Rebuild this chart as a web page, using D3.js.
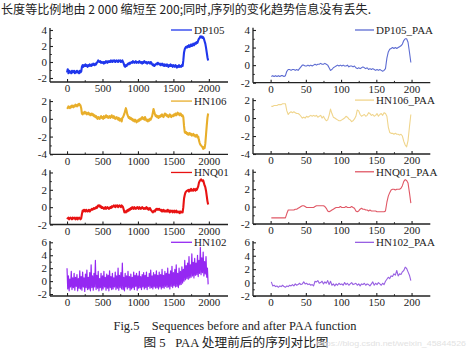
<!DOCTYPE html>
<html><head><meta charset="utf-8">
<script src="https://cdn.jsdelivr.net/npm/d3@7"></script>
<style>body{margin:0;background:#fff}svg{display:block}</style>
</head><body><svg id="c" width="474" height="360"></svg>
<script>
// ---------- data ----------
const rawTicks = [0, 500, 1000, 1500, 2000];
const paaTicks = [0, 50, 100, 150, 200];
const yTicksA = [-2, 0, 2, 4];
const yTicksB = [-4, -2, 0, 2];
const yTicksC = [-2, 0, 2, 4, 6];
const seriesNames = ["DP105", "HN106", "HNQ01", "HN102"];

const dp105Raw = [
-1.3,-0.9,-1.4,-1.1,-1.3,-1.2,-1.4,-1.1,-1.3,-1.2,
-1.1,-1.4,-1.2,-1.3,-1.1,-1.3,-1.2,-1.4,-1.1,-1.3,
-1.2,-0.6,-0.4,-0.6,-0.4,-0.5,-0.3,-0.5,-0.4,-0.6,
-0.4,-0.5,-0.3,-0.4,-0.5,-0.3,-0.4,-0.2,-0.3,-0.4,
-0.2,-0.3,-0.1,0.0,0.2,0.1,0.0,0.1,-0.1,0.0,
-0.1,0.0,-0.2,0.0,-0.1,0.1,0.0,-0.1,0.1,0.0,
0.1,0.0,0.2,0.1,0.0,0.2,0.1,0.2,0.0,0.1,
0.2,0.1,0.0,0.2,0.1,0.2,0.0,0.1,0.2,0.0,
-0.2,-0.5,-0.6,-0.4,-0.5,-0.3,-0.2,-0.3,-0.1,-0.2,
-0.1,0.0,-0.1,0.1,0.0,-0.1,0.0,0.1,-0.1,0.0,
0.0,-0.1,0.1,0.0,-0.1,0.0,-0.2,0.0,-0.1,0.1,
0.0,-0.1,0.0,-0.2,-0.1,0.0,-0.1,-0.2,0.0,-0.1,
-0.3,-0.4,-0.3,-0.5,-0.4,-0.3,-0.2,-0.3,-0.1,-0.2,
-0.3,-0.2,-0.4,-0.3,-0.2,-0.4,-0.3,-0.5,-0.3,-0.4,
-0.5,-0.3,-0.4,-0.6,-0.4,-0.5,-0.3,-0.5,-0.4,-0.6,
-0.4,-0.5,-0.6,-0.4,-0.5,-0.7,-0.5,-0.6,-0.4,-0.6,
-0.5,-0.6,-0.4,-0.5,0.2,1.2,1.6,1.8,1.9,1.8,
2.0,1.9,2.1,1.9,2.0,2.2,2.0,2.1,2.3,2.1,
2.2,2.4,2.3,2.5,2.4,2.7,2.9,3.0,3.2,3.1,
3.2,3.0,3.1,2.9,2.6,2.3,1.8,1.2,0.6,0.2];

const dp105Paa = [
-1.3,-1.2,-1.3,-1.2,-1.3,-1.2,-1.3,-1.2,-1.2,-1.3,
-1.2,-0.7,-0.5,-0.5,-0.6,-0.5,-0.5,-0.6,-0.5,-0.6,
-0.4,-0.2,0.0,0.0,-0.1,-0.1,0.0,-0.1,0.0,-0.1,
0.0,0.1,0.0,0.1,0.1,0.2,0.1,0.1,0.2,0.1,
0.0,-0.3,-0.6,-0.5,-0.3,-0.2,-0.1,0.0,-0.1,0.0,
-0.1,0.0,-0.1,-0.1,0.0,-0.2,-0.1,-0.1,-0.2,-0.1,
-0.3,-0.4,-0.3,-0.4,-0.3,-0.2,-0.3,-0.4,-0.3,-0.5,
-0.4,-0.5,-0.4,-0.5,-0.6,-0.5,-0.6,-0.5,-0.6,-0.7,
-0.6,-0.4,0.8,1.5,1.8,1.9,2.0,1.9,2.0,1.9,
2.0,2.1,2.2,2.4,2.8,3.0,3.0,2.6,1.5,0.3];

const hn106Raw = [
1.3,1.2,1.4,1.3,1.2,1.4,1.3,1.5,1.4,1.3,
1.5,1.4,1.6,1.5,1.4,1.6,1.5,1.7,1.6,1.5,
1.2,0.6,0.5,0.7,0.6,0.8,0.6,0.7,0.5,0.6,
0.7,0.5,0.6,0.4,0.5,0.6,0.4,0.5,0.3,0.4,
0.2,0.3,0.1,0.0,0.2,0.1,0.0,0.2,0.3,0.1,
0.2,0.0,0.3,0.1,0.2,0.4,0.2,0.3,0.1,0.2,
0.3,0.1,0.2,0.4,0.2,0.1,0.3,0.2,0.0,0.1,
0.2,0.0,-0.1,0.1,-0.2,-0.1,0.0,-0.3,0.1,0.2,
0.4,0.6,0.9,1.2,0.9,0.5,0.3,0.1,0.2,0.0,
0.1,-0.1,0.0,-0.2,-0.1,-0.3,-0.1,-0.2,-0.4,-0.2,
-0.3,-0.1,-0.2,0.0,-0.1,0.1,0.2,0.0,0.1,-0.1,
0.2,0.0,-0.2,-0.1,-0.3,-0.1,-0.2,0.0,-0.1,0.1,
0.3,0.7,1.1,0.8,0.5,0.3,0.4,0.2,0.3,0.1,
0.3,0.2,0.4,0.3,0.5,0.3,0.2,0.4,0.6,0.4,
0.5,0.3,0.4,0.2,0.3,0.5,0.4,0.2,0.3,0.4,
0.3,0.5,0.4,0.6,0.4,0.5,0.7,0.5,0.6,0.4,
0.6,0.5,0.3,0.4,0.2,-0.8,-1.5,-1.6,-1.5,-1.7,
-1.6,-1.8,-1.7,-1.6,-1.8,-1.7,-1.9,-1.8,-1.7,-1.9,
-1.8,-2.0,-1.9,-1.8,-2.1,-2.0,-2.4,-2.7,-2.9,-3.0,
-3.1,-3.2,-3.4,-3.2,-3.3,-2.8,-1.8,-0.8,0.1,0.6];

const hn106Paa = [
1.3,1.3,1.4,1.4,1.4,1.5,1.5,1.5,1.6,1.6,
1.6,0.8,0.4,0.6,0.7,0.6,0.7,0.6,0.5,0.5,
0.4,0.2,0.0,0.1,0.0,0.2,0.1,0.2,0.3,0.2,
0.3,0.2,0.3,0.1,0.2,0.3,0.0,0.2,-0.1,-0.3,
-0.2,0.3,1.0,0.5,0.1,0.0,-0.1,-0.2,-0.3,-0.3,
-0.2,-0.1,0.0,0.2,0.1,-0.1,-0.2,-0.4,-0.3,-0.1,
0.2,0.9,0.8,0.4,0.2,0.3,0.4,0.2,0.3,0.6,
0.5,0.3,0.4,0.2,0.3,0.5,0.2,0.4,0.5,0.3,
0.6,0.5,0.2,-1.0,-1.6,-1.7,-1.7,-1.8,-1.7,-1.8,
-1.8,-1.9,-1.8,-2.0,-2.6,-3.0,-3.2,-2.5,-1.0,0.4];

const hnq01Raw = [
-1.2,-1.3,-1.2,-1.4,-1.3,-1.2,-1.3,-1.4,-1.2,-1.3,
-1.3,-1.2,-1.4,-1.3,-1.2,-1.4,-1.3,-1.2,-1.3,-1.4,
-1.3,-0.8,-0.4,-0.5,-0.3,-0.4,-0.5,-0.3,-0.4,-0.5,
-0.4,-0.3,-0.5,-0.4,-0.3,-0.2,-0.3,-0.2,-0.1,-0.2,
-0.1,0.0,-0.1,0.1,0.2,0.1,0.2,0.0,0.1,-0.1,
0.0,-0.1,-0.2,-0.1,0.0,-0.2,-0.1,0.0,-0.1,-0.2,
-0.1,0.0,-0.1,0.1,0.0,0.1,0.2,0.1,0.0,0.2,
0.1,0.2,0.0,0.1,0.2,0.1,0.0,0.2,0.1,0.0,
-0.3,-0.6,-0.5,-0.6,-0.4,-0.5,-0.3,-0.4,-0.2,-0.3,
-0.1,-0.2,0.0,-0.1,-0.2,0.0,-0.1,-0.2,-0.1,0.0,
-0.1,-0.2,0.0,-0.1,-0.2,-0.1,0.0,-0.1,-0.2,-0.1,
-0.2,-0.1,0.0,-0.2,-0.1,-0.3,-0.2,-0.1,-0.3,-0.4,
-0.5,-0.6,-0.5,-0.4,-0.5,-0.3,-0.2,-0.3,-0.2,-0.3,
-0.2,-0.3,-0.4,-0.3,-0.5,-0.4,-0.3,-0.5,-0.4,-0.5,
-0.4,-0.5,-0.3,-0.5,-0.4,-0.6,-0.4,-0.5,-0.4,-0.6,
-0.5,-0.4,-0.6,-0.5,-0.4,-0.6,-0.5,-0.6,-0.5,-0.7,
-0.5,-0.6,-0.5,-0.6,0.0,1.0,1.4,1.7,1.8,1.9,
1.9,2.0,1.8,2.0,1.9,2.1,1.9,2.0,1.9,2.1,
2.0,1.9,2.1,2.0,2.2,2.4,2.8,3.0,3.1,3.2,
3.1,3.0,3.1,2.8,2.5,2.3,1.9,1.3,0.7,0.3];

const hnq01Paa = [
-1.3,-1.3,-1.3,-1.3,-1.3,-1.3,-1.3,-1.3,-1.3,-1.3,
-1.3,-0.8,-0.4,-0.4,-0.4,-0.4,-0.4,-0.3,-0.3,-0.2,
-0.1,0.0,0.1,0.1,0.0,-0.1,-0.1,-0.1,-0.1,-0.1,
-0.1,0.0,0.1,0.1,0.1,0.1,0.1,0.1,0.0,-0.2,
-0.5,-0.6,-0.5,-0.4,-0.3,-0.2,-0.1,-0.1,-0.1,0.0,
-0.1,-0.1,-0.1,0.0,-0.1,-0.1,-0.1,0.0,-0.1,-0.2,
-0.5,-0.6,-0.5,-0.3,-0.2,-0.3,-0.3,-0.4,-0.4,-0.5,
-0.4,-0.5,-0.5,-0.5,-0.5,-0.6,-0.6,-0.6,-0.6,-0.6,
-0.6,-0.5,0.5,1.2,1.6,1.9,2.0,2.0,1.9,2.0,
2.0,2.0,2.1,2.4,2.9,3.1,3.0,2.7,1.6,0.4];

const hn102Raw = [
2.0,-1.2,0.8,-1.5,0.3,-0.9,1.5,-1.3,0.5,-1.0,
1.2,-1.4,0.6,-0.8,1.0,-1.5,0.4,-1.1,1.6,-1.2,
0.7,-1.4,1.4,-0.9,0.5,-1.6,1.1,-1.0,1.7,-1.3,
0.6,-1.2,1.3,-1.5,2.5,-1.0,0.8,-1.4,1.2,-0.9,
3.2,-1.3,0.9,-1.1,1.5,-1.5,0.4,-1.0,1.2,-1.4,
0.8,-1.2,1.5,-0.9,0.6,-1.4,1.1,-1.1,0.9,-1.5,
1.6,-1.0,0.7,-1.3,1.2,-1.2,0.5,-0.9,1.4,-1.3,
0.8,-1.1,2.0,-1.4,0.9,-1.0,1.3,-1.2,2.8,-1.3,
0.6,-1.5,1.2,-0.9,0.8,-1.2,1.5,-1.0,0.7,-1.4,
1.1,-1.2,0.6,-1.0,1.4,-1.3,0.9,-0.8,1.2,-1.4,
0.8,-1.1,1.5,-1.0,0.7,-1.3,1.0,-0.9,1.3,-1.2,
0.9,-1.0,1.4,-1.3,0.6,-0.8,1.2,-1.1,1.7,-1.0,
0.8,-1.2,1.3,-0.9,1.0,-1.1,1.6,-1.0,0.9,-1.2,
1.4,-0.9,1.0,-1.2,1.8,-1.0,0.9,-1.1,1.5,-0.8,
1.2,-1.0,2.0,-0.9,1.1,-1.2,1.6,-0.8,2.3,-1.0,
1.3,-0.7,1.8,-0.9,2.5,-0.8,1.2,-1.0,2.0,-0.6,
1.5,-0.5,2.2,-0.3,1.8,0.0,3.2,0.2,2.4,0.4,
2.8,0.3,3.8,0.5,2.5,0.6,4.2,0.8,2.9,0.5,
3.5,0.9,2.8,1.0,4.0,0.7,3.2,1.2,5.2,1.0,
3.6,1.3,4.5,0.8,3.0,1.1,3.8,0.6,2.0,-0.5];

const hn102Paa = [
0.1,-0.5,-0.4,-0.6,-0.5,-0.7,-0.5,-0.6,-0.4,-0.6,
-0.7,-0.5,-0.6,-0.4,-0.5,-0.3,-0.5,-0.2,-0.4,-0.3,
-0.1,-0.3,-0.2,0.1,-0.2,-0.1,-0.3,-0.2,-0.4,-0.3,
-0.5,0.2,0.1,0.3,-0.1,0.0,0.2,-0.2,0.1,-0.1,
0.3,-0.3,0.2,-0.4,-0.2,-0.5,-0.2,-0.4,-0.1,-0.3,
-0.2,-0.4,0.0,-0.3,-0.1,-0.4,-0.2,0.0,-0.3,-0.2,
-0.1,-0.4,-0.2,-0.5,-0.2,-0.3,-0.1,-0.4,-0.2,-0.3,
-0.5,-0.2,0.1,-0.4,-0.1,-0.3,0.0,-0.2,-0.4,-0.1,
-0.3,0.2,0.5,0.8,0.6,1.0,0.9,1.3,1.1,1.8,
1.0,1.3,1.2,1.6,1.8,2.3,2.1,1.6,1.1,0.3];

const rawIndex = d3.range(0, 2000, 10);   // original sequence positions (length 2000, sampled)
const paaIndex = d3.range(1, 200, 2);     // PAA segment positions (length 200)

// ---------- layout ----------
const svg = d3.select("#c");
const FONT = "'Liberation Serif','Times New Roman',serif";
const fmt = d => String(d);
const cols = [
  {dom: [-240, 2270], rng: [50, 228], ticks: rawTicks, minor: 250, leg: [171, 192, 194], idx: rawIndex},
  {dom: [-25, 226.6], rng: [253, 430.3], ticks: paaTicks, minor: 25, leg: [355, 374, 376], idx: paaIndex}
];
const rows = [
  {ticks: yTicksA, L: {dom: [-2.5, 4.25], rng: [82, 28]},   R: {dom: [-2, 4.25], rng: [82.7, 27.8]}},
  {ticks: yTicksB, L: {dom: [-4, 2.2], rng: [154.3, 99.3]}, R: {dom: [-4, 2.2], rng: [154, 98.3]}},
  {ticks: yTicksA, L: {dom: [-2, 4.25], rng: [224.5, 170.3]}, R: {dom: [-2, 4.25], rng: [224, 169.6]}},
  {ticks: yTicksC, L: {dom: [-2.3, 6.2], rng: [296, 241]},  R: {dom: [-2, 6.2], rng: [296, 241]}}
];
const seriesData = [[dp105Raw, dp105Paa], [hn106Raw, hn106Paa], [hnq01Raw, hnq01Paa], [hn102Raw, hn102Paa]];
const colors = [["#1f36ec", "#5d6cd2"], ["#e8ae2a", "#f0d58c"], ["#e81212", "#e05866"], ["#9528f2", "#9860e2"]];
const widths = [[2.1, 1.1], [2.1, 1.1], [2.1, 1.1], [1.2, 1.1]];

rows.forEach((row, ri) => {
  cols.forEach((col, ci) => {
    const yc = ci === 0 ? row.L : row.R;
    const x = d3.scaleLinear().domain(col.dom).range(col.rng);
    const y = d3.scaleLinear().domain(yc.dom).range(yc.rng);
    const g = svg.append("g");
    const y0 = yc.rng[0];
    // minor ticks
    const xMinor = d3.range(col.ticks[0], col.ticks[col.ticks.length - 1] + 1, col.minor).filter(v => !col.ticks.includes(v));
    g.append("g").attr("transform", `translate(0,${y0})`)
      .call(d3.axisBottom(x).tickValues(xMinor).tickSizeInner(-1.8).tickSizeOuter(0).tickFormat(""))
      .call(s => s.select(".domain").remove())
      .selectAll("line").attr("stroke", "#222").attr("stroke-width", 1);
    const yMinor = d3.range(Math.ceil(yc.dom[0]), Math.floor(yc.dom[1]) + 1).filter(v => !row.ticks.includes(v));
    g.append("g").attr("transform", `translate(${col.rng[0]},0)`)
      .call(d3.axisLeft(y).tickValues(yMinor).tickSizeInner(-1.8).tickSizeOuter(0).tickFormat(""))
      .call(s => s.select(".domain").remove())
      .selectAll("line").attr("stroke", "#222").attr("stroke-width", 1);
    // series line
    const vals = seriesData[ri][ci];
    const line = d3.line().x((d, i) => x(col.idx[i])).y(d => y(d));
    g.append("path").datum(vals).attr("d", line).attr("fill", "none")
      .attr("stroke", colors[ri][ci]).attr("stroke-width", widths[ri][ci]).attr("stroke-linejoin", "round");
    // axes
    const xa = g.append("g").attr("transform", `translate(0,${y0})`)
      .call(d3.axisBottom(x).tickValues(col.ticks).tickFormat(fmt).tickSizeInner(-3).tickSizeOuter(0).tickPadding(2.5));
    const ya = g.append("g").attr("transform", `translate(${col.rng[0]},0)`)
      .call(d3.axisLeft(y).tickValues(row.ticks).tickFormat(fmt).tickSizeInner(-3).tickSizeOuter(0).tickPadding(3));
    [xa, ya].forEach(a => {
      a.select(".domain").attr("stroke", "#222").attr("stroke-width", 1.3);
      a.selectAll("line").attr("stroke", "#222").attr("stroke-width", 1.1);
      a.selectAll("text").attr("font-family", FONT).attr("font-size", 11).attr("fill", "#222");
    });
    xa.select(".domain").attr("d", `M${col.rng[0]},0H${col.rng[1]}`);
    ya.select(".domain").attr("d", `M0,${yc.rng[0]}V${yc.rng[1]}`);
    // legend
    const ly = y(row.ticks[row.ticks.length - 1]);
    g.append("line").attr("x1", col.leg[0]).attr("x2", col.leg[1]).attr("y1", ly).attr("y2", ly)
      .attr("stroke", colors[ri][ci]).attr("stroke-width", 1.3);
    g.append("text").attr("x", col.leg[2]).attr("y", ly + 3.8)
      .attr("font-family", FONT).attr("font-size", 11).attr("fill", "#222")
      .text(seriesNames[ri] + (ci === 1 ? "_PAA" : ""));
  });
});

// ---------- texts ----------
svg.append("text").attr("x", 1).attr("y", 13.5)
  .attr("font-family", "'Noto Sans CJK SC',sans-serif").attr("font-size", 12).attr("fill", "#222")
  .attr("textLength", 370).attr("lengthAdjust", "spacingAndGlyphs")
  .text("长度等比例地由 2 000 缩短至 200;同时,序列的变化趋势信息没有丢失.");
svg.append("text").attr("x", 113.5).attr("y", 329.5)
  .attr("font-family", FONT).attr("font-size", 12.5).attr("fill", "#222")
  .attr("textLength", 243).attr("lengthAdjust", "spacingAndGlyphs").attr("xml:space", "preserve")
  .text("Fig.5    Sequences before and after PAA function");
svg.append("text").attr("x", 143.5).attr("y", 347)
  .attr("font-family", "'Liberation Serif','Noto Sans CJK SC',serif").attr("font-size", 12.5).attr("fill", "#222")
  .attr("textLength", 185).attr("lengthAdjust", "spacingAndGlyphs").attr("xml:space", "preserve")
  .text("图 5   PAA 处理前后的序列对比图");
svg.append("text").attr("x", 316).attr("y", 346)
  .attr("font-family", "'Liberation Sans',sans-serif").attr("font-size", 7.5).attr("fill", "#e2e2e2")
  .attr("textLength", 150).attr("lengthAdjust", "spacingAndGlyphs")
  .text("https://blog.csdn.net/weixin_45844526");
</script></body></html>
